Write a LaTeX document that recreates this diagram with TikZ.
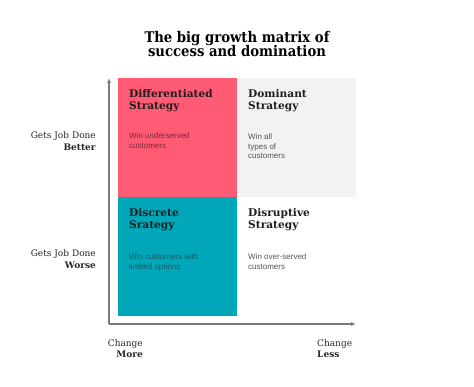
\documentclass[tikz,border=0pt]{standalone}
\usepackage{fontspec}
\setmainfont{DejaVu Serif}
\newfontfamily\descfont{Liberation Sans}
\newfontfamily\titlefont{DejaVu Serif Condensed}
\usetikzlibrary{arrows.meta}
\definecolor{qpink}{HTML}{FF5B74}
\definecolor{qteal}{HTML}{00A7B8}
\definecolor{qgray}{HTML}{F2F2F2}
\definecolor{axisgray}{HTML}{7A7A7A}
\definecolor{headdark}{HTML}{1E1E1E}
\definecolor{descpink}{HTML}{7A2A38}
\definecolor{descteal}{HTML}{0E5C66}
\definecolor{descgray}{HTML}{555555}
\tikzset{
  quad/.style={draw=none, minimum width=119pt, minimum height=119pt, inner sep=0pt, outer sep=0pt, anchor=north west},
  head/.style={anchor=north west, align=left, inner sep=0pt, font=\fontsize{10.6}{12}\selectfont\bfseries, text=headdark},
  desc/.style={anchor=north west, align=left, inner sep=0pt, font=\descfont\fontsize{8}{9.5}\selectfont},
  axislabel/.style={inner sep=0pt, font=\fontsize{9}{11.5}\selectfont, text=black!85},
  axisline/.style={draw=axisgray, line width=1.1pt},
}
\begin{document}
\begin{tikzpicture}[x=1pt,y=-1pt]
\useasboundingbox[fill=white] (0,0) rectangle (474,387);
% title
\node[font=\titlefont\fontsize{14.7}{14.5}\selectfont\bfseries, align=center, inner sep=0pt, anchor=base] (title) at (237,57) {The big growth matrix of\\success and domination};
% quadrants
\node[quad, fill=qpink] (q1) at (118,78) {};
\node[quad, fill=qgray] (q2) at (237,78) {};
\node[quad, fill=qteal] (q3) at (118,197) {};
\node[quad, fill=white] (q4) at (237,197) {};
% headings
\node[head] (h1) at (129,89) {Differentiated\\Strategy};
\node[head] (h2) at (248,89) {Dominant\\Strategy};
\node[head] (h3) at (129,208) {Discrete\\Srategy};
\node[head] (h4) at (248,208) {Disruptive\\Strategy};
% descriptions
\node[desc, text=descpink] (d1) at (129,133) {Win underserved\\customers};
\node[desc, text=descgray] (d2) at (248,134) {Win all\\types of\\customers};
\node[desc, text=descteal] (d3) at (129,254) {Win customers with\\limited options};
\node[desc, text=descgray] (d4) at (248,254) {Win over-served\\customers};
% axes
\coordinate (origin) at (109,324);
\coordinate (ytop) at (109,78);
\coordinate (xend) at (356,324);
\draw[axisline, -{Latex[length=5pt,width=4pt]}] (origin) -- (ytop);
\draw[axisline, -{Latex[length=5pt,width=4pt]}] (origin) -- (xend);
% axis labels
\node[axislabel, anchor=east, align=right] (better) at (96,141) {Gets Job Done\\\textbf{Better}};
\node[axislabel, anchor=east, align=right] (worse) at (96,259) {Gets Job Done\\\textbf{Worse}};
\node[axislabel, anchor=north east, align=right] (more) at (143,339) {Change\\\textbf{More}};
\node[axislabel, anchor=north west, align=left] (less) at (317,339) {Change\\\textbf{Less}};
\end{tikzpicture}
\end{document}
